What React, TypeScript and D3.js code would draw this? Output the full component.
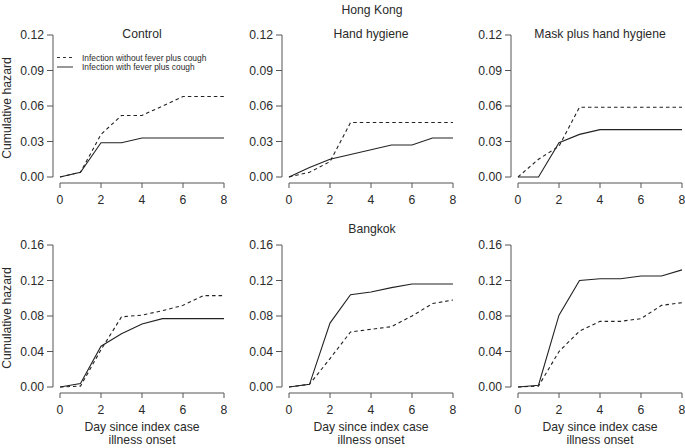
import React from "react";
import * as d3 from "d3";

const days = [0, 1, 2, 3, 4, 5, 6, 7, 8];
const xTicks = [0, 2, 4, 6, 8];
const hkTicks = [0, 0.03, 0.06, 0.09, 0.12];
const bkTicks = [0, 0.04, 0.08, 0.12, 0.16];
const armTitles = ["Control", "Hand hygiene", "Mask plus hand hygiene"];
const legendLabels = ["Infection without fever plus cough", "Infection with fever plus cough"];

// Hong Kong: dashed = without fever plus cough, solid = with fever plus cough
const hkControlDashed = [0, 0.004, 0.036, 0.052, 0.052, 0.06, 0.068, 0.068, 0.068];
const hkControlSolid = [0, 0.004, 0.029, 0.029, 0.033, 0.033, 0.033, 0.033, 0.033];
const hkHandDashed = [0, 0.004, 0.013, 0.046, 0.046, 0.046, 0.046, 0.046, 0.046];
const hkHandSolid = [0, 0.008, 0.015, 0.019, 0.023, 0.027, 0.027, 0.033, 0.033];
const hkMaskDashed = [0, 0.015, 0.026, 0.059, 0.059, 0.059, 0.059, 0.059, 0.059];
const hkMaskSolid = [0, 0, 0.029, 0.036, 0.04, 0.04, 0.04, 0.04, 0.04];

// Bangkok
const bkControlDashed = [0, 0.001, 0.042, 0.079, 0.081, 0.086, 0.092, 0.103, 0.103];
const bkControlSolid = [0, 0.004, 0.046, 0.06, 0.071, 0.077, 0.077, 0.077, 0.077];
const bkHandDashed = [0, 0.003, 0.032, 0.062, 0.065, 0.068, 0.08, 0.094, 0.098];
const bkHandSolid = [0, 0.003, 0.072, 0.104, 0.107, 0.112, 0.116, 0.116, 0.116];
const bkMaskDashed = [0, 0.001, 0.04, 0.063, 0.074, 0.074, 0.077, 0.092, 0.095];
const bkMaskSolid = [0, 0.002, 0.081, 0.12, 0.122, 0.122, 0.125, 0.125, 0.132];

const FONT = "'Liberation Sans', Arial, Helvetica, sans-serif";
const TEXT = "#2a2a2a";
const AXIS = "#555";
const FS = 12.2;

type PanelProps = {
  left: number;
  top: number;
  bottom: number;
  yMax: number;
  yTicks: number[];
  dashed: number[];
  solid: number[];
  title?: string;
  showYLabel: boolean;
  showXLabel: boolean;
  showLegend: boolean;
};

function Panel(p: PanelProps) {
  const x = d3.scaleLinear().domain([0, 8]).range([p.left, p.left + 164]);
  const y = d3.scaleLinear().domain([0, p.yMax]).range([p.bottom, p.top]);
  const line = d3
    .line<number>()
    .x((_, i) => x(days[i]))
    .y((v) => y(v));
  const axisX = p.left - 7;
  const axisY = p.bottom + 6;
  const midX = (p.left + p.left + 164) / 2;
  return (
    <g>
      <line x1={axisX} x2={axisX} y1={y(0)} y2={y(p.yMax)} stroke={AXIS} strokeWidth={1} />
      {p.yTicks.map((t) => (
        <g key={t}>
          <line x1={axisX - 6} x2={axisX} y1={y(t)} y2={y(t)} stroke={AXIS} strokeWidth={1} />
          <text x={axisX - 9} y={y(t) + 4.2} textAnchor="end" fontSize={FS} fill={TEXT}>
            {t.toFixed(2)}
          </text>
        </g>
      ))}
      <line x1={x(0)} x2={x(8)} y1={axisY} y2={axisY} stroke={AXIS} strokeWidth={1} />
      {xTicks.map((t) => (
        <g key={t}>
          <line x1={x(t)} x2={x(t)} y1={axisY} y2={axisY + 5} stroke={AXIS} strokeWidth={1} />
          <text x={x(t)} y={axisY + 21} textAnchor="middle" fontSize={FS} fill={TEXT}>
            {t}
          </text>
        </g>
      ))}
      {p.title && (
        <text x={midX} y={p.top + 3} textAnchor="middle" fontSize={FS} fill={TEXT}>
          {p.title}
        </text>
      )}
      {p.showYLabel && (
        <text
          transform={`translate(11, ${(p.top + p.bottom) / 2 + 2}) rotate(-90)`}
          textAnchor="middle"
          fontSize={FS}
          fill={TEXT}
        >
          Cumulative hazard
        </text>
      )}
      {p.showXLabel && (
        <g>
          <text x={midX} y={axisY + 38} textAnchor="middle" fontSize={FS} fill={TEXT}>
            Day since index case
          </text>
          <text x={midX} y={axisY + 51} textAnchor="middle" fontSize={FS} fill={TEXT}>
            illness onset
          </text>
        </g>
      )}
      {p.showLegend && (
        <g>
          <line x1={57} x2={73} y1={57.5} y2={57.5} stroke="#333" strokeWidth={1} strokeDasharray="3,3" />
          <line x1={57} x2={73} y1={67} y2={67} stroke="#333" strokeWidth={1} />
          <text x={82} y={60.5} fontSize={8.4} fill={TEXT}>
            {legendLabels[0]}
          </text>
          <text x={82} y={70} fontSize={8.4} fill={TEXT}>
            {legendLabels[1]}
          </text>
        </g>
      )}
      <path d={line(p.dashed) || ""} fill="none" stroke="#222" strokeWidth={1.1} strokeDasharray="3.5,3" />
      <path d={line(p.solid) || ""} fill="none" stroke="#222" strokeWidth={1.1} />
    </g>
  );
}

export default function App() {
  const lefts = [60, 289, 518];
  const hk = [
    [hkControlDashed, hkControlSolid],
    [hkHandDashed, hkHandSolid],
    [hkMaskDashed, hkMaskSolid],
  ];
  const bk = [
    [bkControlDashed, bkControlSolid],
    [bkHandDashed, bkHandSolid],
    [bkMaskDashed, bkMaskSolid],
  ];
  return (
    <svg
      width={685}
      height={448}
      style={{ position: "absolute", left: 0, top: 0, background: "#fff", fontFamily: FONT }}
    >
      <rect width={685} height={448} fill="#fff" />
      <text x={372} y={14} textAnchor="middle" fontSize={FS} fill={TEXT}>
        Hong Kong
      </text>
      <text x={372} y={233} textAnchor="middle" fontSize={FS} fill={TEXT}>
        Bangkok
      </text>
      {lefts.map((l, i) => (
        <Panel
          key={"hk" + i}
          left={l}
          top={35}
          bottom={177}
          yMax={0.12}
          yTicks={hkTicks}
          dashed={hk[i][0]}
          solid={hk[i][1]}
          title={armTitles[i]}
          showYLabel={i === 0}
          showXLabel={false}
          showLegend={i === 0}
        />
      ))}
      {lefts.map((l, i) => (
        <Panel
          key={"bk" + i}
          left={l}
          top={245}
          bottom={387}
          yMax={0.16}
          yTicks={bkTicks}
          dashed={bk[i][0]}
          solid={bk[i][1]}
          showYLabel={i === 0}
          showXLabel={true}
          showLegend={false}
        />
      ))}
    </svg>
  );
}
